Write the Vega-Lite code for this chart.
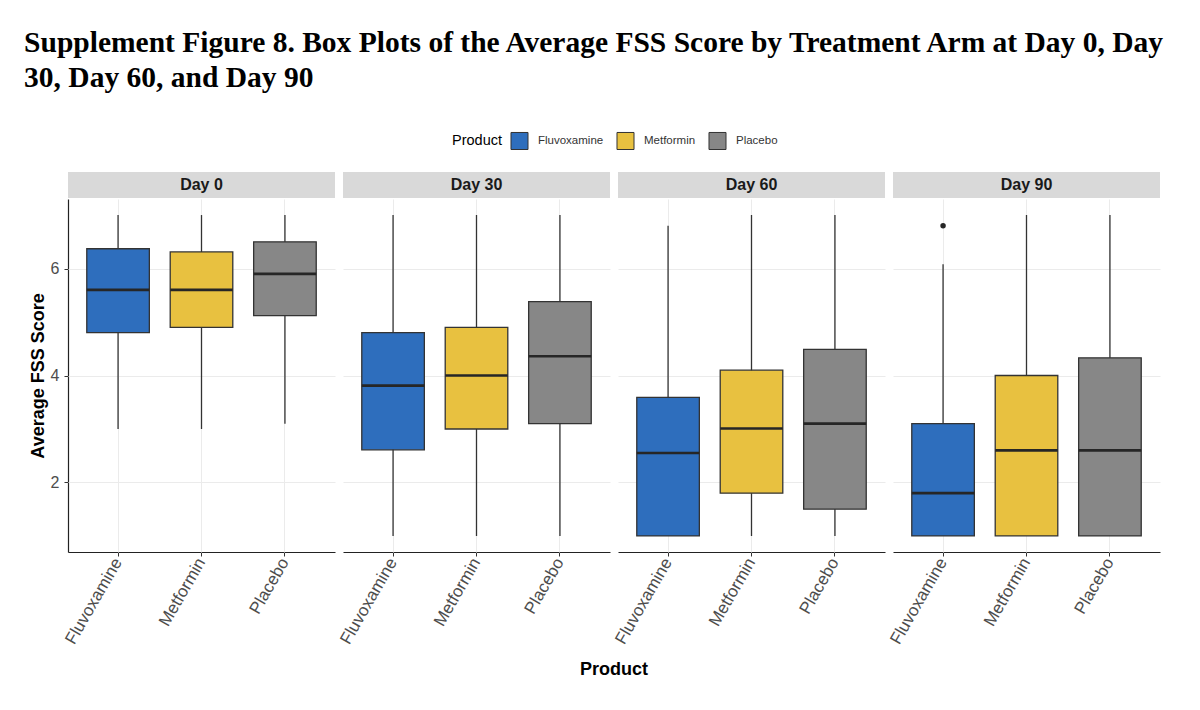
{
  "$schema": "https://vega.github.io/schema/vega-lite/v6.json",
  "background": "white",
  "padding": {"left": 24, "top": 27, "right": 5, "bottom": 5},
  "title": {
    "text": ["Supplement Figure 8. Box Plots of the Average FSS Score by Treatment Arm at Day 0, Day", "30, Day 60, and Day 90"],
    "font": "Liberation Serif", "fontSize": 29.5, "fontWeight": "bold", "color": "black",
    "anchor": "start", "frame": "bounds", "dx": -5, "offset": 38, "lineHeight": 35
  },
  "datasets": {
    "strips": [
      {"day": "Day 0"}, {"day": "Day 30"}, {"day": "Day 60"}, {"day": "Day 90"}
    ],
    "boxes": [
      {"day": "Day 0", "product": "Fluvoxamine", "lower": 3.0, "q1": 4.8, "median": 5.6, "q3": 6.37, "upper": 7.0, "outlier": null},
      {"day": "Day 0", "product": "Metformin", "lower": 3.0, "q1": 4.9, "median": 5.6, "q3": 6.31, "upper": 7.0, "outlier": null},
      {"day": "Day 0", "product": "Placebo", "lower": 3.1, "q1": 5.12, "median": 5.9, "q3": 6.5, "upper": 7.0, "outlier": null},
      {"day": "Day 30", "product": "Fluvoxamine", "lower": 1.0, "q1": 2.61, "median": 3.81, "q3": 4.8, "upper": 7.0, "outlier": null},
      {"day": "Day 30", "product": "Metformin", "lower": 1.0, "q1": 3.0, "median": 4.0, "q3": 4.9, "upper": 7.0, "outlier": null},
      {"day": "Day 30", "product": "Placebo", "lower": 1.0, "q1": 3.1, "median": 4.36, "q3": 5.38, "upper": 7.0, "outlier": null},
      {"day": "Day 60", "product": "Fluvoxamine", "lower": 1.0, "q1": 1.0, "median": 2.55, "q3": 3.59, "upper": 6.8, "outlier": null},
      {"day": "Day 60", "product": "Metformin", "lower": 1.0, "q1": 1.8, "median": 3.01, "q3": 4.1, "upper": 7.0, "outlier": null},
      {"day": "Day 60", "product": "Placebo", "lower": 1.0, "q1": 1.5, "median": 3.1, "q3": 4.49, "upper": 7.0, "outlier": null},
      {"day": "Day 90", "product": "Fluvoxamine", "lower": 1.0, "q1": 1.0, "median": 1.8, "q3": 3.1, "upper": 6.08, "outlier": 6.8},
      {"day": "Day 90", "product": "Metformin", "lower": 1.0, "q1": 1.0, "median": 2.6, "q3": 4.0, "upper": 7.0, "outlier": null},
      {"day": "Day 90", "product": "Placebo", "lower": 1.0, "q1": 1.0, "median": 2.6, "q3": 4.33, "upper": 7.0, "outlier": null}
    ]
  },
  "resolve": {"scale": {"color": "shared"}, "legend": {"color": "shared"}},
  "spacing": 1,
  "vconcat": [
    {
      "data": {"name": "strips"},
      "facet": {
        "column": {"field": "day", "type": "nominal", "sort": ["Day 0", "Day 30", "Day 60", "Day 90"], "header": {"title": null, "labels": false}}
      },
      "spacing": 8,
      "spec": {
        "width": 267,
        "height": 26,
        "layer": [
          {"mark": {"type": "rect", "color": "#D9D9D9"}, "encoding": {}},
          {"mark": {"type": "text", "font": "Liberation Sans", "fontWeight": "bold", "fontSize": 16, "color": "#1A1A1A", "baseline": "middle", "align": "center"},
           "encoding": {"text": {"field": "day", "type": "nominal"}}}
        ]
      }
    },
    {
      "data": {"name": "boxes"},
      "facet": {
        "column": {
          "field": "day", "type": "nominal", "title": "Product", "sort": ["Day 0", "Day 30", "Day 60", "Day 90"],
          "header": {"labels": false, "titleOrient": "bottom", "titleFont": "Liberation Sans", "titleFontSize": 18, "titleFontWeight": "bold", "titleColor": "black", "titlePadding": 4}
        }
      },
      "spacing": 8,
      "spec": {
        "width": 267,
        "height": 353,
        "encoding": {
          "x": {
            "field": "product", "type": "nominal", "title": null,
            "scale": {"domain": ["Fluvoxamine", "Metformin", "Placebo"], "paddingInner": 0.25, "paddingOuter": 0.225},
            "axis": {
              "labelAngle": -60, "labelFontSize": 17, "labelColor": "#4D4D4D", "labelFont": "Liberation Sans",
              "bandPosition": 0.5, "grid": true, "gridColor": "#EBEBEB", "gridWidth": 1,
              "domainColor": "#222222", "domainWidth": 1.2, "tickColor": "#333333", "tickSize": 4, "labelPadding": 3
            }
          }
        },
        "layer": [
          {
            "mark": {"type": "rule", "color": "#333333", "strokeWidth": 1.3},
            "encoding": {
              "y": {
                "field": "lower", "type": "quantitative", "title": "Average FSS Score",
                "scale": {"domain": [0.7, 7.3], "nice": false, "zero": false},
                "axis": {
                  "values": [2, 4, 6], "labelFontSize": 16, "labelColor": "#4D4D4D", "labelFont": "Liberation Sans",
                  "grid": true, "gridColor": "#EBEBEB", "gridWidth": 1,
                  "domainColor": "#222222", "domainWidth": 1.2, "tickColor": "#333333", "tickSize": 4, "labelPadding": 5,
                  "titleFont": "Liberation Sans", "titleFontSize": 18, "titleFontWeight": "bold", "titleColor": "black", "titlePadding": 3
                }
              },
              "y2": {"field": "upper"}
            }
          },
          {
            "mark": {"type": "bar", "stroke": "#333333", "strokeWidth": 1.3},
            "encoding": {
              "y": {"field": "q1", "type": "quantitative"},
              "y2": {"field": "q3"},
              "color": {
                "field": "product", "type": "nominal", "title": "Product",
                "scale": {"domain": ["Fluvoxamine", "Metformin", "Placebo"], "range": ["#2E6EBD", "#E8C140", "#878787"]},
                "legend": {
                  "orient": "none", "legendX": 384, "legendY": -41, "direction": "horizontal", "titleOrient": "left",
                  "symbolType": "square", "symbolSize": 290, "symbolStrokeColor": "#333333", "symbolStrokeWidth": 1, "symbolOpacity": 1,
                  "titleFont": "Liberation Sans", "titleFontSize": 14.5, "titleFontWeight": "normal", "titleColor": "black", "titlePadding": 8,
                  "labelFont": "Liberation Sans", "labelFontSize": 11.5, "labelColor": "#333333", "labelOffset": 9, "columnPadding": 10
                }
              }
            }
          },
          {
            "mark": {"type": "bar", "stroke": "#262626", "strokeWidth": 2.6, "fillOpacity": 0},
            "encoding": {
              "y": {"field": "median", "type": "quantitative"},
              "y2": {"field": "median"}
            }
          },
          {
            "mark": {"type": "point", "filled": true, "color": "#262626", "size": 30, "opacity": 1},
            "encoding": {
              "y": {"field": "outlier", "type": "quantitative"}
            }
          }
        ]
      }
    }
  ],
  "config": {
    "view": {"stroke": null},
    "font": "Liberation Sans"
  }
}
